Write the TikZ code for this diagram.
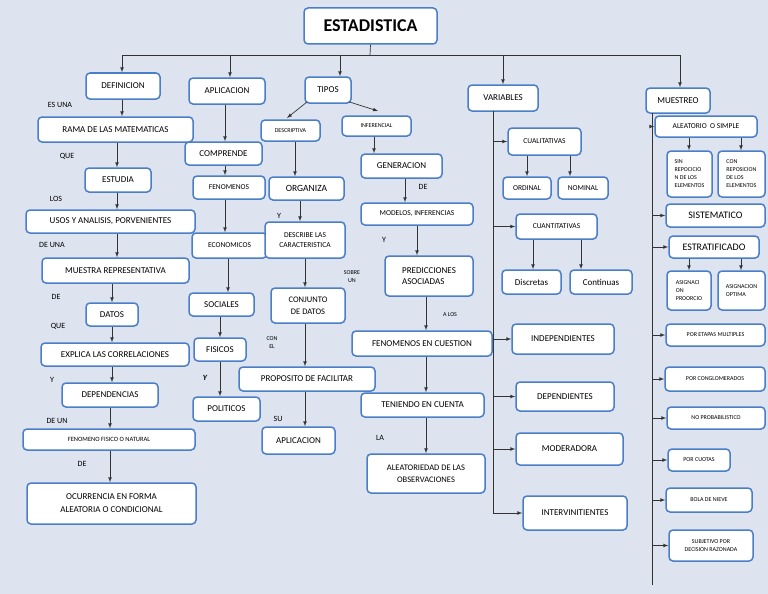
\documentclass[tikz,border=0pt]{standalone}
\usepackage{fontspec}
\setmainfont{Carlito}
\definecolor{bg}{HTML}{DDE4F0}
\definecolor{bd}{HTML}{4A7EC7}
\tikzset{
 box/.style={draw=bd,fill=white,line width=1.5pt,rounded corners=4pt,align=center,inner sep=1pt,font=\fontsize{9}{11}\selectfont},
 sm/.style={font=\fontsize{7.5}{9.5}\selectfont},
 xs/.style={font=\fontsize{6}{8}\selectfont},
 lbl/.style={font=\fontsize{8}{9}\selectfont,inner sep=0pt,align=center},
 arr/.style={-latex,line width=0.7pt,draw=black!80},
 ln/.style={line width=0.7pt,draw=black!80}
}
\newcommand\nb[7][]{\node[box,minimum width={(#5-#3)*1pt},minimum height={(#6-#4)*1pt},#1] (#2) at ({(#3+#5)/2},{(#4+#6)/2}) {#7};}
\begin{document}
\begin{tikzpicture}[x=1pt,y=-1pt]
\fill[bg] (0,0) rectangle (768,594);
\useasboundingbox (0,0) rectangle (768,594);
\nb[font=\bfseries\fontsize{18}{20}\selectfont]{tit}{304}{8}{437}{44}{ESTADISTICA}
\nb{def}{86}{73}{160}{99}{DEFINICION}
\nb{apl}{189}{78}{265}{104}{APLICACION}
\nb{tip}{305}{77}{351}{103}{TIPOS}
\nb{var}{468}{85}{538}{111}{VARIABLES}
\nb{mue}{646}{88}{710}{113}{MUESTREO}
\nb{rama}{38}{117}{193}{142}{RAMA DE LAS MATEMATICAS}
\nb{comp}{185}{142}{262}{165}{COMPRENDE}
\nb[xs]{desc}{261}{120}{320}{141}{DESCRIPTIVA}
\nb[xs]{infe}{342}{116}{411}{136}{INFERENCIAL}
\nb{estu}{85}{168}{151}{192}{ESTUDIA}
\nb[sm]{fen}{193}{176}{265}{199}{FENOMENOS}
\nb[font=\fontsize{9.5}{11}\selectfont]{org}{269}{177}{344}{200}{ORGANIZA}
\nb{gen}{361}{154}{442}{178}{GENERACION}
\nb[sm]{cual}{508}{128}{581}{155}{CUALITATIVAS}
\nb[sm]{ord}{503}{177}{551}{199}{ORDINAL}
\nb[sm]{nom}{558}{177}{608}{199}{NOMINAL}
\nb[sm]{alea}{655}{116}{757}{137}{ALEATORIO\ \ O SIMPLE}
\nb[xs,align=left]{sin}{667}{151}{712}{197}{SIN\\REPOCICIO\\N DE LOS\\ELEMENTOS}
\nb[xs,align=left]{con}{718}{151}{765}{197}{CON\\REPOSICION\\DE LOS\\ELEMENTOS}
\nb{usos}{26}{210}{195}{233}{USOS Y ANALISIS, PORVENIENTES}
\nb[sm]{eco}{192}{233}{267}{258}{ECONOMICOS}
\nb[sm]{dla}{265}{222}{345}{258}{DESCRIBE LAS\\CARACTERISTICA}
\nb[sm]{mod}{361}{203}{473}{225}{MODELOS, INFERENCIAS}
\nb[sm]{cuan}{516}{214}{597}{239}{CUANTITATIVAS}
\nb[font=\fontsize{10}{11}\selectfont]{sis}{666}{204}{765}{227}{SISTEMATICO}
\nb[font=\fontsize{10}{11}\selectfont]{est}{669}{236}{759}{258}{ESTRATIFICADO}
\nb{mrep}{42}{258}{189}{283}{MUESTRA REPRESENTATIVA}
\nb{dis}{502}{270}{561}{294}{Discretas}
\nb{cont}{570}{270}{632}{294}{Continuas}
\nb[align=left]{pred}{385}{256}{473}{296}{PREDICCIONES\\ASOCIADAS}
\nb[xs,align=left]{asp}{667}{271}{711}{310}{ASIGNACI\\ON\\PROORCIO}
\nb[xs,align=left]{aso}{718}{271}{765}{310}{ASIGNACION\\OPTIMA}
\nb{soc}{189}{293}{254}{316}{SOCIALES}
\nb[font=\fontsize{8.5}{12}\selectfont]{cdd}{271}{288}{345}{323}{CONJUNTO\\DE DATOS}
\nb{dat}{86}{303}{138}{326}{DATOS}
\nb{ind}{512}{324}{614}{354}{INDEPENDIENTES}
\nb[xs]{etp}{666}{324}{765}{346}{POR ETAPAS MULTIPLES}
\nb{fec}{352}{331}{492}{356}{FENOMENOS EN CUESTION}
\nb{fis}{194}{338}{246}{361}{FISICOS}
\nb{expl}{41}{343}{189}{366}{EXPLICA LAS CORRELACIONES}
\nb{prop}{239}{367}{375}{391}{PROPOSITO DE FACILITAR}
\nb[xs]{cgl}{665}{367}{765}{391}{POR CONGLOMERADOS}
\nb{depd}{62}{383}{158}{407}{DEPENDENCIAS}
\nb{depi}{516}{382}{614}{411}{DEPENDIENTES}
\nb{ten}{361}{393}{484}{417}{TENIENDO EN CUENTA}
\nb{pol}{193}{397}{260}{421}{POLITICOS}
\nb[xs]{npr}{667}{407}{765}{429}{NO PROBABILISTICO}
\nb[font=\fontsize{6.5}{8}\selectfont]{ffn}{23}{429}{195}{450}{FENOMENO FISICO O NATURAL}
\nb{ap2}{262}{427}{335}{454}{APLICACION}
\nb{moder}{516}{433}{623}{465}{MODERADORA}
\nb[xs]{cuo}{668}{449}{730}{471}{POR CUOTAS}
\nb[font=\fontsize{8.5}{12}\selectfont]{ale}{367}{454}{485}{493}{ALEATORIEDAD DE LAS\\OBSERVACIONES}
\nb[font=\fontsize{9}{13}\selectfont]{ocu}{27}{483}{196}{524}{OCURRENCIA EN FORMA\\ALEATORIA O CONDICIONAL}
\nb[xs]{bola}{666}{488}{752}{512}{BOLA DE NIEVE}
\nb{intv}{523}{496}{627}{530}{INTERVINITIENTES}
\nb[xs]{subj}{669}{530}{753}{561}{SUBJETIVO POR\\DECISION RAZONADA}
% top bar
\coordinate (tl) at (122,55); \coordinate (tr) at (680,55);
\draw[ln] (tit.south) -- (370,55);
\draw[ln] (tl) -- (tr);
\foreach \n/\x in {def/122,apl/230,tip/340,var/503,mue/680}
  \draw[arr] (\x,55) -- (\x,0 |- \n.north);
% definicion chain
\draw[arr] (122,0 |- def.south) -- (122,0 |- rama.north);
\draw[arr] (117,0 |- rama.south) -- (117,0 |- estu.north);
\draw[arr] (117,0 |- estu.south) -- (117,0 |- usos.north);
\draw[arr] (117,0 |- usos.south) -- (117,0 |- mrep.north);
\draw[arr] (112,0 |- mrep.south) -- (112,0 |- dat.north);
\draw[arr] (112,0 |- dat.south) -- (112,0 |- expl.north);
\draw[arr] (112,0 |- expl.south) -- (112,0 |- depd.north);
\draw[arr] (110,0 |- depd.south) -- (110,0 |- ffn.north);
\draw[arr] (110,0 |- ffn.south) -- (110,0 |- ocu.north);
\node[lbl] at (60,105) {ES UNA};
\node[lbl] at (67,156) {QUE};
\node[lbl] at (56,199) {LOS};
\node[lbl] at (52,245) {DE UNA};
\node[lbl] at (56,297) {DE};
\node[lbl] at (58,326) {QUE};
\node[lbl] at (52,380) {Y};
\node[lbl] at (57,421) {DE UN};
\node[lbl] at (82,464) {DE};
% aplicacion chain
\draw[arr] (225,0 |- apl.south) -- (225,0 |- comp.north);
\draw[arr] (225,0 |- comp.south) -- (225,0 |- fen.north);
\draw[arr] (225,0 |- fen.south) -- (225,0 |- eco.north);
\draw[arr] (228,0 |- eco.south) -- (228,0 |- soc.north);
\draw[arr] (220,0 |- soc.south) -- (220,0 |- fis.north);
\draw[arr] (220,0 |- fis.south) -- (220,0 |- pol.north);
\node[lbl,font=\bfseries\itshape\fontsize{8}{9}\selectfont] at (205,378) {Y};
% tipos
\draw[arr] (tip.south west) ++(3,-2) -- (287,118);
\draw[arr] (tip.south east) ++(-3,-2) -- (378,111);
\draw[arr] (295,0 |- desc.south) -- (295,0 |- org.north);
\draw[arr] (300,0 |- org.south) -- (300,0 |- dla.north);
\draw[arr] (305,0 |- dla.south) -- (305,0 |- cdd.north);
\draw[arr] (305,0 |- cdd.south) -- (305,0 |- prop.north);
\draw[arr] (305,0 |- prop.south) -- (305,0 |- ap2.north);
\node[lbl] at (279,216) {Y};
\node[lbl,font=\fontsize{6}{8}\selectfont] at (352,277) {SOBRE\\UN};
\node[lbl,font=\fontsize{6}{8}\selectfont] at (272,343) {CON\\EL};
\node[lbl] at (278,419) {SU};
\draw[arr] (374,0 |- infe.south) -- (374,0 |- gen.north);
\draw[arr] (405,0 |- gen.south) -- (405,0 |- mod.north);
\draw[arr] (417,0 |- mod.south) -- (417,0 |- pred.north);
\draw[arr] (426,0 |- pred.south) -- (426,0 |- fec.north);
\draw[arr] (426,0 |- fec.south) -- (426,0 |- ten.north);
\draw[arr] (426,0 |- ten.south) -- (426,0 |- ale.north);
\node[lbl] at (423,187) {DE};
\node[lbl] at (384,240) {Y};
\node[lbl,font=\fontsize{6}{8}\selectfont] at (450,315) {A LOS};
\node[lbl] at (380,438) {LA};
% variables
\coordinate (vt) at (493,111); \coordinate (vb) at (493,513);
\draw[ln] (vt) -- (vb);
\foreach \n in {cual,cuan,ind,depi,moder,intv}
  \draw[arr] (493,0 |- \n.west) -- (\n.west);
\draw[arr] (527,0 |- cual.south) -- (527,0 |- ord.north);
\draw[arr] (570,0 |- cual.south) -- (570,0 |- nom.north);
\draw[arr] (533,0 |- cuan.south) -- (533,0 |- dis.north);
\draw[arr] (581,0 |- cuan.south) -- (581,0 |- cont.north);
% muestreo
\coordinate (mt) at (652,113); \coordinate (mb) at (652,585);
\draw[ln] (mt) -- (mb);
\foreach \n in {alea,sis,est,etp,cgl,npr,cuo,bola,subj}
  \draw[arr] (652,0 |- \n.west) -- (\n.west);
\draw[arr] (689,0 |- alea.south) -- (689,0 |- sin.north);
\draw[arr] (741,0 |- alea.south) -- (741,0 |- con.north);
\draw[arr] (689,0 |- est.south) -- (689,0 |- asp.north);
\draw[arr] (741,0 |- est.south) -- (741,0 |- aso.north);
\end{tikzpicture}
\end{document}
